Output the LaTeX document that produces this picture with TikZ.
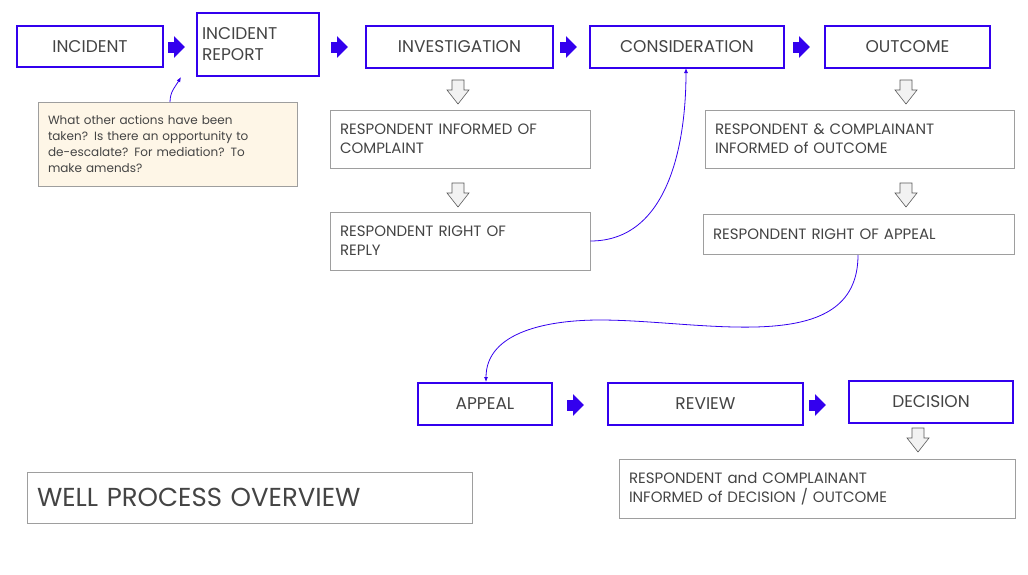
\documentclass[tikz,border=0pt]{standalone}
\usepackage{fontspec}
\setmainfont{Poppins}
\usetikzlibrary{arrows.meta}
\definecolor{bl}{HTML}{3300EE}
\definecolor{gr}{HTML}{9E9E9E}
\definecolor{tx}{HTML}{444444}
\begin{document}
\begin{tikzpicture}[x=1pt,y=-1pt,
 bbox/.style={draw=bl,line width=1.5pt,inner sep=0pt,text=tx,font=\fontsize{17}{21}\selectfont},
 gbox/.style={draw=gr,line width=0.8pt,inner sep=0pt,text=tx,font=\fontsize{15}{19}\selectfont,align=left,text width=#1},
 barrow/.style={draw=bl,line width=11pt,-{Triangle[length=11pt,width=21pt]},shorten >=-2pt},
 garrow/.pic={\draw[fill=gray!10,draw=gray!70!black,line width=0.6pt] (-6,-12)--(6,-12)--(6,-2)--(11,-2)--(0,12)--(-11,-2)--(-6,-2)--cycle;},
 conn/.style={draw=bl,line width=0.8pt,-{Latex[length=5pt,width=4pt]}}]
\useasboundingbox (0,0) rectangle (1028,574);
\node[bbox,minimum width=146pt,minimum height=41pt] (inc) at (90,46.5) {INCIDENT};
\node[bbox,minimum width=122pt,minimum height=63pt,align=left,text width=112pt] (rep) at (258,44.5) {INCIDENT\\REPORT};
\node[bbox,minimum width=187pt,minimum height=42pt] (inv) at (459.5,47) {INVESTIGATION};
\node[bbox,minimum width=194pt,minimum height=42pt] (con) at (687,47) {CONSIDERATION};
\node[bbox,minimum width=165pt,minimum height=42pt] (out) at (907.5,47) {OUTCOME};
\node[bbox,minimum width=134pt,minimum height=42pt] (app) at (485,404) {APPEAL};
\node[bbox,minimum width=195pt,minimum height=42pt] (rev) at (705.5,404) {REVIEW};
\node[bbox,minimum width=164pt,minimum height=42pt] (dec) at (931,402) {DECISION};
\coordinate (a1s) at (168,47); \coordinate (a1e) at (192,47);
\coordinate (a2s) at (331,47); \coordinate (a2e) at (355,47);
\coordinate (a3s) at (560,47); \coordinate (a3e) at (584,47);
\coordinate (a4s) at (793,47); \coordinate (a4e) at (817,47);
\coordinate (a5s) at (567,405); \coordinate (a5e) at (591,405);
\coordinate (a6s) at (809,405); \coordinate (a6e) at (833,405);
\foreach \a in {a1,a2,a3,a4,a5,a6} \draw[barrow] (\a s) -- ([xshift=-9pt]\a e);
\node[gbox=239pt,fill=yellow!20!orange!8,minimum width=259pt,minimum height=84pt,font=\fontsize{12}{16}\selectfont] (note) at (167.5,144) {What other actions have been\\taken? Is there an opportunity to\\de-escalate? For mediation? To\\make amends?};
\node[gbox=240pt,minimum width=260pt,minimum height=58pt] (inf) at (460,139) {RESPONDENT INFORMED OF\\COMPLAINT};
\node[gbox=240pt,minimum width=260pt,minimum height=58pt] (rr) at (460,241) {RESPONDENT RIGHT OF\\REPLY};
\node[gbox=289pt,minimum width=309pt,minimum height=58pt] (rc) at (859.5,139) {RESPONDENT \& COMPLAINANT\\INFORMED of OUTCOME};
\node[gbox=291pt,minimum width=311pt,minimum height=40pt] (ra) at (858.5,234) {RESPONDENT RIGHT OF APPEAL};
\node[gbox=376pt,minimum width=396pt,minimum height=59pt] (fin) at (817,488.5) {RESPONDENT and COMPLAINANT\\INFORMED of DECISION / OUTCOME};
\node[gbox=425pt,minimum width=445pt,minimum height=51pt,font=\fontsize{26}{30}\selectfont] (title) at (249.5,497.5) {WELL PROCESS OVERVIEW};
\pic at (458,92) {garrow};
\pic at (458,195) {garrow};
\pic at (906,92) {garrow};
\pic at (906,195) {garrow};
\pic at (918,440) {garrow};
\draw[conn] (170,102) to[out=90,in=-120] (181,77);
\draw[conn] (rr.east) to[out=0,in=-90] (686,68);
\draw[conn] (858,255) to[out=-90,in=0] (600,320) to[out=180,in=90] (486,382);
\end{tikzpicture}
\end{document}
